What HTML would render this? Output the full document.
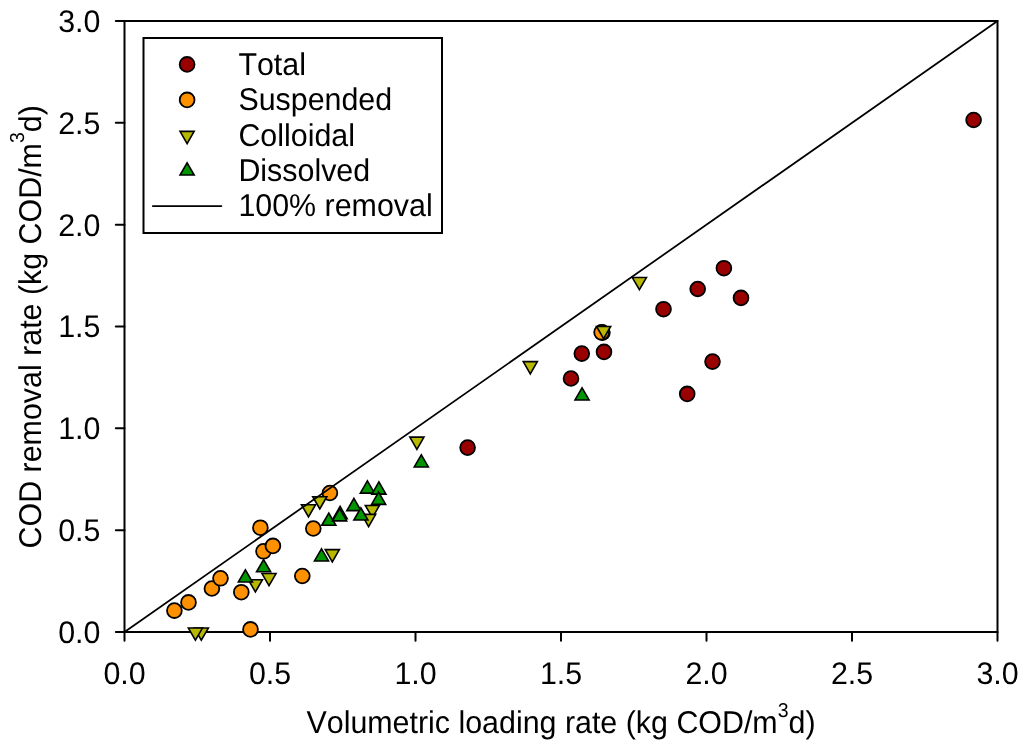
<!DOCTYPE html>
<html><head><meta charset="utf-8"><title>COD removal rate vs volumetric loading rate</title>
<style>html,body{margin:0;padding:0;background:#fff;width:1024px;height:751px;overflow:hidden}svg{display:block}</style>
</head><body><svg width="1024" height="751" viewBox="0 0 1024 751"><rect width="1024" height="751" fill="#fff"/><g stroke="#000" stroke-width="2.0" fill="none" stroke-linecap="round"><path d="M124.5 21.0H997.5V632.0H124.5Z"/><path d="M115.8 632.00H124.5"/><path d="M115.8 530.17H124.5"/><path d="M115.8 428.33H124.5"/><path d="M115.8 326.50H124.5"/><path d="M115.8 224.67H124.5"/><path d="M115.8 122.83H124.5"/><path d="M115.8 21.00H124.5"/><path d="M124.50 632.0V640.8"/><path d="M270.00 632.0V640.8"/><path d="M415.50 632.0V640.8"/><path d="M561.00 632.0V640.8"/><path d="M706.50 632.0V640.8"/><path d="M852.00 632.0V640.8"/><path d="M997.50 632.0V640.8"/></g><g stroke="#000" stroke-width="1.8" stroke-miterlimit="10"><circle cx="467.60" cy="447.60" r="7.4" fill="#990000"/><circle cx="571.00" cy="378.50" r="7.4" fill="#990000"/><circle cx="581.80" cy="353.60" r="7.4" fill="#990000"/><circle cx="604.00" cy="351.90" r="7.4" fill="#990000"/><circle cx="602.40" cy="332.60" r="7.4" fill="#990000"/><circle cx="663.50" cy="309.20" r="7.4" fill="#990000"/><circle cx="687.20" cy="393.90" r="7.4" fill="#990000"/><circle cx="697.70" cy="289.00" r="7.4" fill="#990000"/><circle cx="712.50" cy="361.60" r="7.4" fill="#990000"/><circle cx="723.90" cy="268.20" r="7.4" fill="#990000"/><circle cx="741.00" cy="297.90" r="7.4" fill="#990000"/><circle cx="973.60" cy="120.00" r="7.4" fill="#990000"/><circle cx="174.40" cy="610.60" r="7.4" fill="#FF9100"/><circle cx="188.50" cy="602.40" r="7.4" fill="#FF9100"/><circle cx="211.90" cy="588.50" r="7.4" fill="#FF9100"/><circle cx="220.50" cy="578.30" r="7.4" fill="#FF9100"/><circle cx="241.30" cy="592.20" r="7.4" fill="#FF9100"/><circle cx="250.50" cy="629.40" r="7.4" fill="#FF9100"/><circle cx="260.40" cy="527.70" r="7.4" fill="#FF9100"/><circle cx="263.50" cy="551.30" r="7.4" fill="#FF9100"/><circle cx="272.90" cy="545.90" r="7.4" fill="#FF9100"/><circle cx="302.30" cy="576.00" r="7.4" fill="#FF9100"/><circle cx="313.30" cy="528.50" r="7.4" fill="#FF9100"/><circle cx="329.90" cy="493.00" r="7.4" fill="#FF9100"/><circle cx="601.60" cy="332.30" r="7.4" fill="#FF9100"/><path d="M194.25 628.03H208.35L201.30 640.24Z" fill="#B8B800" stroke-width="1.6"/><path d="M188.35 628.03H202.45L195.40 640.24Z" fill="#B8B800" stroke-width="1.6"/><path d="M248.35 579.73H262.45L255.40 591.94Z" fill="#B8B800" stroke-width="1.6"/><path d="M261.95 573.53H276.05L269.00 585.74Z" fill="#B8B800" stroke-width="1.6"/><path d="M301.45 504.73H315.55L308.50 516.94Z" fill="#B8B800" stroke-width="1.6"/><path d="M312.75 496.73H326.85L319.80 508.94Z" fill="#B8B800" stroke-width="1.6"/><path d="M325.25 549.63H339.35L332.30 561.84Z" fill="#B8B800" stroke-width="1.6"/><path d="M365.35 505.43H379.45L372.40 517.64Z" fill="#B8B800" stroke-width="1.6"/><path d="M361.55 514.33H375.65L368.60 526.54Z" fill="#B8B800" stroke-width="1.6"/><path d="M409.85 437.13H423.95L416.90 449.34Z" fill="#B8B800" stroke-width="1.6"/><path d="M523.25 361.63H537.35L530.30 373.84Z" fill="#B8B800" stroke-width="1.6"/><path d="M596.55 326.43H610.65L603.60 338.64Z" fill="#B8B800" stroke-width="1.6"/><path d="M632.35 277.53H646.45L639.40 289.74Z" fill="#B8B800" stroke-width="1.6"/><path d="M238.35 582.07H252.45L245.40 569.86Z" fill="#009600" stroke-width="1.6"/><path d="M256.55 571.77H270.65L263.60 559.56Z" fill="#009600" stroke-width="1.6"/><path d="M314.45 560.97H328.55L321.50 548.76Z" fill="#009600" stroke-width="1.6"/><path d="M321.75 525.27H335.85L328.80 513.06Z" fill="#009600" stroke-width="1.6"/><path d="M333.05 518.67H347.15L340.10 506.46Z" fill="#009600" stroke-width="1.6"/><path d="M332.55 520.87H346.65L339.60 508.66Z" fill="#009600" stroke-width="1.6"/><path d="M346.85 510.67H360.95L353.90 498.46Z" fill="#009600" stroke-width="1.6"/><path d="M353.85 520.07H367.95L360.90 507.86Z" fill="#009600" stroke-width="1.6"/><path d="M360.35 493.17H374.45L367.40 480.96Z" fill="#009600" stroke-width="1.6"/><path d="M371.85 494.17H385.95L378.90 481.96Z" fill="#009600" stroke-width="1.6"/><path d="M371.55 504.37H385.65L378.60 492.16Z" fill="#009600" stroke-width="1.6"/><path d="M414.25 466.97H428.35L421.30 454.76Z" fill="#009600" stroke-width="1.6"/><path d="M575.00 399.97H589.10L582.05 387.76Z" fill="#009600" stroke-width="1.6"/></g><path d="M124.5 632.0L997.5 21.0" stroke="#000" stroke-width="1.75" fill="none" stroke-linecap="round"/><g font-family="Liberation Sans, Arial, sans-serif" font-size="30.4" fill="#000" style="font-kerning:none" text-rendering="geometricPrecision"><text transform="translate(100.40 642.90) scale(1 1.03)" text-anchor="end">0.0</text><text transform="translate(100.40 541.07) scale(1 1.03)" text-anchor="end">0.5</text><text transform="translate(100.40 439.23) scale(1 1.03)" text-anchor="end">1.0</text><text transform="translate(100.40 337.40) scale(1 1.03)" text-anchor="end">1.5</text><text transform="translate(100.40 235.57) scale(1 1.03)" text-anchor="end">2.0</text><text transform="translate(100.40 133.73) scale(1 1.03)" text-anchor="end">2.5</text><text transform="translate(100.40 31.90) scale(1 1.03)" text-anchor="end">3.0</text><text transform="translate(124.50 683.50) scale(1 1.03)" text-anchor="middle">0.0</text><text transform="translate(270.00 683.50) scale(1 1.03)" text-anchor="middle">0.5</text><text transform="translate(415.50 683.50) scale(1 1.03)" text-anchor="middle">1.0</text><text transform="translate(561.00 683.50) scale(1 1.03)" text-anchor="middle">1.5</text><text transform="translate(706.50 683.50) scale(1 1.03)" text-anchor="middle">2.0</text><text transform="translate(852.00 683.50) scale(1 1.03)" text-anchor="middle">2.5</text><text transform="translate(997.50 683.50) scale(1 1.03)" text-anchor="middle">3.0</text><text transform="translate(561.00 733.00) scale(1 1.035)" text-anchor="middle">Volumetric loading rate (kg COD/m<tspan font-size="19.5" dy="-15">3</tspan><tspan dy="15">d)</tspan></text><text transform="translate(41.30 326.80) rotate(-90) scale(1 1.035)" text-anchor="middle">COD removal rate (kg COD/m<tspan font-size="19.5" dy="-16.6">3</tspan><tspan dy="16.6">d)</tspan></text></g><rect x="143.5" y="38" width="298.5" height="195" fill="#fff" stroke="#000" stroke-width="2.0"/><g stroke="#000" stroke-width="1.8"><circle cx="187.10" cy="64.40" r="7.4" fill="#990000"/><circle cx="187.10" cy="99.90" r="7.4" fill="#FF9100"/><path d="M180.05 131.33H194.15L187.10 143.54Z" fill="#B8B800" stroke-width="1.6"/><path d="M180.05 175.07H194.15L187.10 162.86Z" fill="#009600" stroke-width="1.6"/></g><path d="M152.8 206.1H221.4" stroke="#000" stroke-width="1.8" stroke-linecap="round"/><g font-family="Liberation Sans, Arial, sans-serif" font-size="30.4" fill="#000" style="font-kerning:none" text-rendering="geometricPrecision"><text transform="translate(238.40 74.70) scale(1 1.035)">Total</text><text transform="translate(238.40 110.10) scale(1 1.035)">Suspended</text><text transform="translate(238.40 145.50) scale(1 1.035)">Colloidal</text><text transform="translate(238.40 180.90) scale(1 1.035)">Dissolved</text><text transform="translate(238.40 216.20) scale(1 1.035)">100% removal</text></g></svg></body></html>
